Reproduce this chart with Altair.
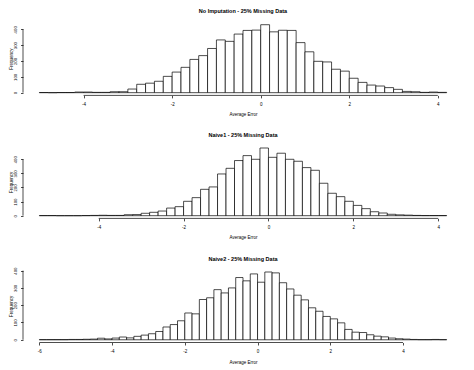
import altair as alt
import pandas as pd

FONT = "Liberation Sans"
BIN_WIDTH = 0.2

titles = ["No Imputation - 25% Missing Data", "Naive1 - 25% Missing Data", "Naive2 - 25% Missing Data"]
x_label = "Average Error"
y_label = "Frequency"

# first bin lower edge of each histogram
bin_starts = [-5.0, -5.4, -6.0]

counts_no_imputation = [
    1, 0, 1, 1, 4, 4, 2, 2, 6, 6,
    23, 53, 60, 72, 103, 130, 160, 210, 234, 279, 333, 324, 370, 393, 395,
    429, 384, 394, 393, 316, 258, 198, 194, 148, 136, 91, 65, 48, 42, 32, 21, 8, 6, 2, 4, 2,
]
counts_naive1 = [
    1, 1, 0, 0, 0, 1, 2, 3, 2, 2, 7, 8,
    17, 24, 33, 54, 64, 102, 128, 187, 204, 296, 336, 391, 426, 400, 480,
    414, 443, 400, 386, 341, 322, 230, 159, 135, 102, 73, 50, 28, 19, 10, 6, 4, 2, 1, 1, 1,
]
counts_naive2 = [
    1, 1, 1, 1, 2, 2, 3, 4, 9, 5, 10, 16, 11, 20, 27,
    35, 48, 74, 88, 110, 155, 150, 233, 243, 290, 271, 300, 360, 341, 381,
    333, 392, 387, 330, 294, 258, 231, 185, 165, 135, 121, 98, 60, 44, 42, 29, 21, 17, 10, 6, 4, 2, 1, 1, 2, 1,
]
all_counts = [counts_no_imputation, counts_naive1, counts_naive2]

x_ticks = [[-4, -2, 0, 2, 4], [-4, -2, 0, 2, 4], [-6, -4, -2, 0, 2, 4]]
y_ticks = [0, 100, 200, 300, 400]

# layout in pixels (per panel cell)
PLOT_W = 440
cell_heights = [120, 123.5, 112.5]
plot_tops = [14, 17.3, 17.3]
plot_bottoms = [87.4, 90.4, 90.5]


def panel(title, start, counts, xt, H, top, bottom):
    n = len(counts)
    lo = [round(start + i * BIN_WIDTH, 1) for i in range(n)]
    df = pd.DataFrame({"lo": lo, "hi": [v + BIN_WIDTH for v in lo], "count": counts, "base": [0] * n})
    xmin, xmax = min(lo), max(lo) + BIN_WIDTH
    xpad = 0.04 * (xmax - xmin)
    ymax = max(counts)
    ypad = 0.04 * ymax
    xs = alt.Scale(domain=[xmin - xpad, xmax + xpad], nice=False, zero=False)
    ys = alt.Scale(domain=[-ypad, ymax + ypad], range=[bottom, top], nice=False, zero=False)

    xaxis = alt.Axis(
        values=xt, title=x_label, domain=False, grid=False,
        tickSize=2.5, tickWidth=0.7, tickColor="black",
        labelFont=FONT, labelFontSize=4.5, labelColor="black", labelPadding=3.8,
        labelFlush=False, labelExpr="'' + datum.value",
        offset=bottom - H,
        titleFont=FONT, titleFontSize=4.5, titleFontWeight="normal", titleColor="black",
        titleX=PLOT_W / 2, titleY=19.5, titleAlign="center", titleBaseline="middle",
    )
    yaxis = alt.Axis(
        values=y_ticks, title=y_label, domain=False, grid=False,
        tickSize=2.5, tickWidth=0.7, tickColor="black",
        labelFont=FONT, labelFontSize=4.3, labelColor="black", labelPadding=2.8,
        labelAngle=270, labelAlign="center", labelBaseline="bottom",
        labelExpr="'' + datum.value",
        titleFont=FONT, titleFontSize=4.5, titleFontWeight="normal", titleColor="black",
        titleX=-9.5, titleY=(top + bottom) / 2, titleAngle=270,
        titleAlign="center", titleBaseline="bottom",
    )

    bars = alt.Chart(df).mark_rect(fill="white", stroke="black", strokeWidth=0.7).encode(
        x=alt.X("lo:Q", scale=xs, axis=xaxis),
        x2="hi:Q",
        y=alt.Y("base:Q", scale=ys, axis=yaxis),
        y2="count:Q",
    )
    xline_df = pd.DataFrame({"lo": [xt[0]], "hi": [xt[-1]]})
    xline = alt.Chart(xline_df).mark_rule(color="black", strokeWidth=0.7).encode(
        x=alt.X("lo:Q", scale=xs, axis=xaxis), x2="hi:Q", y=alt.value(bottom)
    )
    yline_df = pd.DataFrame({"base": [y_ticks[0]], "count": [y_ticks[-1]]})
    yline = alt.Chart(yline_df).mark_rule(color="black", strokeWidth=0.7).encode(
        y=alt.Y("base:Q", scale=ys, axis=yaxis), y2="count:Q", x=alt.value(0)
    )
    ttl = alt.Chart(pd.DataFrame({"t": [title]})).mark_text(
        font=FONT, fontSize=5.5, fontWeight="bold", color="black", align="center", baseline="middle"
    ).encode(x=alt.value(PLOT_W / 2), y=alt.value(top - 10.8), text="t:N")

    return alt.layer(bars, xline, yline, ttl).properties(width=PLOT_W, height=H)


panels = [
    panel(titles[i], bin_starts[i], all_counts[i], x_ticks[i], cell_heights[i], plot_tops[i], plot_bottoms[i])
    for i in range(3)
]

chart = alt.vconcat(*panels, spacing=0, padding=0).configure(
    background="white", view=alt.ViewConfig(stroke=None)
)

chart.save("out.html", embed_options={"renderer": "svg", "actions": False})
